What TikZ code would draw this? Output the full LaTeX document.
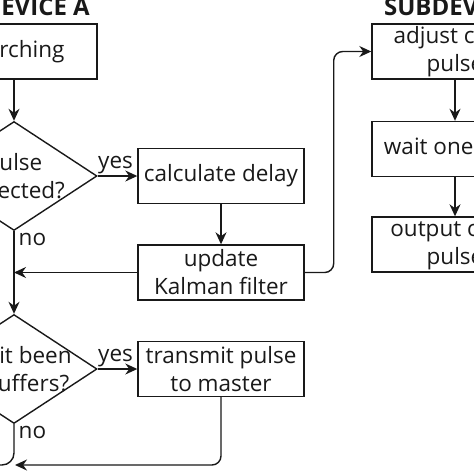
\documentclass[tikz,border=0pt]{standalone}
\usepackage{fontspec}
\setmainfont{Open Sans}
\usetikzlibrary{arrows.meta,shapes.geometric}

\begin{document}
\begin{tikzpicture}[x=1pt,y=-1pt,line width=1.4pt,black!90,
    font=\fontsize{22.5}{28}\selectfont,
    box/.style={draw,rectangle,minimum width=166pt,minimum height=55pt,align=center,inner sep=0pt},
    test/.style={draw,diamond,minimum width=166pt,minimum height=109pt,inner sep=0pt},
    flow/.style={-{Stealth[length=12pt,width=11pt]}},
    lab/.style={inner sep=1pt},
    title/.style={font=\fontsize{24}{26}\selectfont\bfseries,anchor=base west}]
  \useasboundingbox (0,0) rectangle (474,474);
  \clip (0,0) rectangle (474,474);
  % subdevice A
  \node[title] (titleA) at (-68,15.7) {SUBDEVICE A};
  \node[box] (search) at (14,51.5) {searching};
  \node[test,label={[align=center]center:pulse\\detected?}] (detect) at (14,176) {};
  \node[box] (calc) at (221,176) {calculate delay};
  \node[box] (update) at (221,272.5) {update\\Kalman filter};
  \node[test,label={[align=center]center:has it been\\in buffers?}] (buffer) at (14,369) {};
  \node[box] (transmit) at (221,369) {transmit pulse\\to master};
  \coordinate (merge) at (15,465);
  \coordinate (exit) at (-40,465);
  % subdevice B
  \node[title] (titleB) at (380,15.7) {SUBDEVICE B};
  \node[box] (adjust) at (455,51.5) {adjust clock\\pulse};
  \node[box] (wait) at (455,149) {wait one loop};
  \node[box] (output) at (455,244.5) {output clock\\pulse};
  % connectors
  \draw[flow] (search) -- (detect);
  \draw[flow] (detect) -- node[above,lab,pos=.45] {yes} (calc);
  \draw[flow] (calc) -- (update);
  \draw[flow] (update) -- (update -| detect);
  \draw[flow] (detect) -- node[below right,lab,pos=0,xshift=3pt] {no} (buffer);
  \draw[flow] (buffer) -- node[above,lab,pos=.45] {yes} (transmit);
  \draw[flow,rounded corners=9pt] (transmit) |- (merge);
  \draw[rounded corners=12pt] (buffer) |- (exit) node[below right,lab,pos=0,xshift=3pt] {no};
  \draw[flow,rounded corners=9pt] (update.east) -- ++(29,0) |- (adjust);
  \draw[flow] (adjust) -- (wait);
  \draw[flow] (wait) -- (output);
\end{tikzpicture}
\end{document}
